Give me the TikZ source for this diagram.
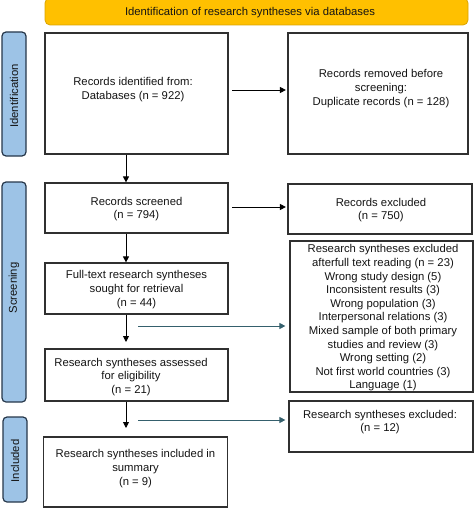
\documentclass[tikz,border=0pt]{standalone}
\usepackage{fontspec}
\setmainfont{Liberation Sans}
\usetikzlibrary{arrows.meta}
\definecolor{barfill}{HTML}{FFC000}
\definecolor{barline}{HTML}{D9A300}
\definecolor{sidefill}{HTML}{9DC3E6}
\definecolor{sideline}{HTML}{26374A}
\definecolor{boxline}{HTML}{303030}
\definecolor{teal}{HTML}{35606D}
\begin{document}
\begin{tikzpicture}[x=1pt,y=-1pt,
  every node/.style={font=\fontsize{11.3}{13.6}\selectfont, text=black!92},
  box/.style={draw=boxline, line width=1.2pt, fill=white, inner sep=0pt},
  txt/.style={align=center, inner sep=0pt},
  side/.style={draw=sideline, line width=1.2pt, fill=sidefill, rounded corners=4pt, inner sep=0pt},
  sidetxt/.style={rotate=90, inner sep=0pt},
  arr/.style={draw=black, line width=0.9pt, -{Triangle[length=6pt,width=6pt]}},
  tarr/.style={draw=teal, line width=1pt, -{Triangle[length=6pt,width=6pt]}}
]
\useasboundingbox (0,0) rectangle (474,508);
\begin{scope}
\clip (0,0) rectangle (474,508);
% top bar
\node[draw=barline, line width=0.8pt, fill=barfill, rounded corners=5pt, minimum width=423pt, minimum height=27pt, inner sep=0pt] (bar) at (256.5,11.5) {};
\node[txt] (bart) at (250,13) {Identification of research syntheses via databases};

% side bars
\node[side, minimum width=24pt, minimum height=124pt] (s1) at (14,94) {};
\node[sidetxt] (s1t) at (14,96) {Identification};
\node[side, minimum width=24pt, minimum height=220pt] (s2) at (14,292) {};
\node[sidetxt] (s2t) at (14,288) {Screening};
\node[side, minimum width=24pt, minimum height=85pt] (s3) at (15,459.5) {};
\node[sidetxt] (s3t) at (15,461) {Included};

% boxes
\node[box, minimum width=183pt, minimum height=121pt] (b1) at (136.5,93.5) {};
\node[txt] (b1t) at (133,89.5) {Records identified from:\\Databases (n = 922)};
\node[box, minimum width=180pt, minimum height=121pt] (b2) at (378,93.5) {};
\node[txt] (b2t) at (381,88.5) {Records removed before\\screening:\\Duplicate records (n = 128)};

\node[box, minimum width=183pt, minimum height=50pt] (b3) at (136.5,208) {};
\node[txt] (b3t) at (136.5,209) {Records screened\\(n = 794)};
\node[box, minimum width=184pt, minimum height=50pt] (b4) at (380,209) {};
\node[txt] (b4t) at (381,210) {Records excluded\\(n = 750)};

\node[box, minimum width=183pt, minimum height=51pt] (b5) at (136.5,288.5) {};
\node[txt] (b5t) at (136.5,289.5) {Full-text research syntheses\\sought for retrieval\\(n = 44)};
\node[box, minimum width=183pt, minimum height=151pt] (b6) at (381.5,316.5) {};
\node[txt] (b6t) at (383,318) {Research syntheses excluded\\afterfull text reading (n = 23)\\Wrong study design (5)\\Inconsistent results (3)\\Wrong population (3)\\Interpersonal relations (3)\\Mixed sample of both primary\\studies and review (3)\\Wrong setting (2)\\Not first world countries (3)\\Language (1)};

\node[box, minimum width=183pt, minimum height=52pt] (b7) at (136.5,375) {};
\node[txt] (b7t) at (131,377) {Research syntheses assessed\\for eligibility\\(n = 21)};
\node[box, minimum width=184pt, minimum height=51pt] (b9) at (381,426.5) {};
\node[txt] (b9t) at (380,422) {Research syntheses excluded:\\(n = 12)};

\node[box, minimum width=184pt, minimum height=70pt] (b8) at (135.5,472) {};
\node[txt] (b8t) at (135.5,468.5) {Research syntheses included in\\summary\\(n = 9)};
\end{scope}

% connector helper coordinates
\coordinate (v) at (126,0);
\coordinate (a1) at (232,90);
\coordinate (a2) at (232,207);
\coordinate (d1) at (126,342);
\coordinate (d2) at (126,428);
\coordinate (t1) at (138,326);
\coordinate (t2) at (138,420);

\draw[arr, shorten >=1.5pt] (a1) -- (b2.west |- a1);
\draw[arr] (b1.south -| v) -- (b3.north -| v);
\draw[arr, shorten >=1.5pt] (a2) -- (b4.west |- a2);
\draw[arr] (b3.south -| v) -- (b5.north -| v);
\draw[arr] (b5.south -| v) -- (d1);
\draw[tarr, shorten >=4pt] (t1) -- (b6.west |- t1);
\draw[arr] (b7.south -| v) -- (d2);
\draw[tarr, shorten >=3pt] (t2) -- (b9.west |- t2);
\end{tikzpicture}
\end{document}
